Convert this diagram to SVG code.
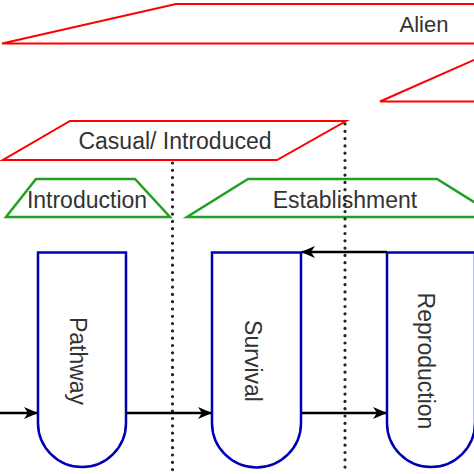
<svg xmlns="http://www.w3.org/2000/svg" width="474" height="474" viewBox="0 0 474 474">
<style>
.red{fill:#fff;stroke:#ff0000;stroke-width:2}
.grn{fill:#fff;stroke:#22a022;stroke-width:2.5}
.blu{fill:#fff;stroke:#0000b3;stroke-width:2.5}
.t{font-family:"Liberation Sans",Arial,sans-serif;font-size:23px;fill:#333;text-anchor:middle}
.dot{stroke:#222;stroke-width:3.2;stroke-linecap:round;stroke-dasharray:0 7.3;fill:none}
.edge{stroke:#000;stroke-width:2.5;fill:none}
</style>
<defs>
<marker id="ah" markerUnits="userSpaceOnUse" markerWidth="14" markerHeight="12" viewBox="0 0 14 12" refX="13" refY="6" orient="auto">
<path d="M0,0 L14,6 L0,12 L4,6 Z" fill="#000"/>
</marker>
</defs>
<rect width="474" height="474" fill="#fff"/>
<g id="alien">
<polygon class="red" points="176,4 480,4 480,43.5 2,43.5"/>
<text class="t" x="424" y="32" style="font-size:22px">Alien</text>
</g>
<g id="alien2">
<polygon class="red" points="474,60 520,60 520,101.5 380,101.5"/>
</g>
<g id="casual">
<polygon class="red" points="70,121 346,121 277,160 3,160"/>
<text class="t" x="175" y="148.5">Casual/ Introduced</text>
</g>
<g id="introduction">
<polygon class="grn" points="36,179 135,179 170,217 6,217"/>
<text class="t" x="87" y="207.5">Introduction</text>
</g>
<g id="establishment">
<polygon class="grn" points="248,179 437,179 498,217 187,217"/>
<text class="t" x="345" y="207.5">Establishment</text>
</g>
<g id="dividers">
<line class="dot" x1="172.5" y1="163" x2="172.5" y2="474"/>
<line class="dot" x1="345" y1="124" x2="345" y2="474"/>
</g>
<g id="pathway">
<path class="blu" d="M38,252.5 H126 V423 A44,44 0 0 1 38,423 Z"/>
<text class="t" transform="translate(70,361) rotate(90)">Pathway</text>
</g>
<g id="survival">
<path class="blu" d="M212,252.5 H301 V423 A44.5,44.5 0 0 1 212,423 Z"/>
<text class="t" transform="translate(245,361) rotate(90)">Survival</text>
</g>
<g id="reproduction">
<path class="blu" d="M387,252.5 H475 V423 A44,44 0 0 1 387,423 Z"/>
<text class="t" transform="translate(418,361) rotate(90)">Reproduction</text>
</g>
<g id="connectors">
<line class="edge" x1="0" y1="413" x2="37" y2="413" marker-end="url(#ah)"/>
<line class="edge" x1="126" y1="413" x2="211" y2="413" marker-end="url(#ah)"/>
<line class="edge" x1="301" y1="413" x2="386" y2="413" marker-end="url(#ah)"/>
<line class="edge" x1="387" y1="252" x2="302" y2="252" marker-end="url(#ah)"/>
</g>
</svg>
